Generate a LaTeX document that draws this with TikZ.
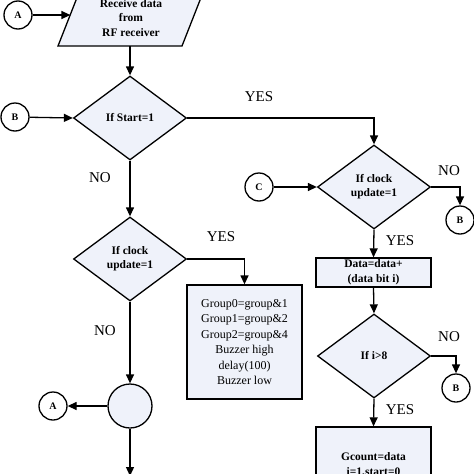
\documentclass[tikz,border=0pt]{standalone}
\usepackage{fontspec}
\setmainfont{Liberation Serif}
\usetikzlibrary{shapes.geometric,arrows.meta}
\definecolor{shapefill}{RGB}{239,242,250}
\begin{document}
\begin{tikzpicture}[x=1pt,y=-1pt,
  line width=1.3pt,
  arr/.style={-{Triangle[length=9pt,width=8pt]}},
  dia/.style={diamond,draw,fill=shapefill,inner sep=0pt,minimum width=113pt,minimum height=84pt,align=center,font=\bfseries\fontsize{11.5}{14}\selectfont},
  proc/.style={rectangle,draw,fill=shapefill,inner sep=0pt,minimum width=115pt,align=center,font=\bfseries\fontsize{11.5}{15}\selectfont},
  conn/.style={circle,draw,fill=white,inner sep=0pt,minimum size=28pt,font=\bfseries\fontsize{10}{12}\selectfont},
  lbl/.style={inner sep=0pt,font=\fontsize{15}{18}\selectfont}
]
\path[use as bounding box,clip] (0,0) rectangle (474,474);
\fill[white] (0,0) rectangle (474,474);

% parallelogram
\draw[fill=shapefill] (58,46) -- (182,46) -- (204,-10) -- (80,-10) -- cycle;
\node[inner sep=0pt,align=center,font=\bfseries\fontsize{11.5}{14.5}\selectfont] (recv) at (131,18) {Receive data\\from\\RF receiver};
\coordinate (recvL) at (70.4,15);
\coordinate (recvB) at (130,46);

\node[conn] (A1) at (18,15) {A};
\node[conn] (B1) at (15,117) {B};
\node[dia] (d1) at (130,118) {If Start=1};
\node[dia] (d4) at (130,259) {If clock\\update=1};
\node[conn] (C1) at (259,187) {C};
\node[dia] (d2) at (374,187) {If clock\\update=1};
\node[conn] (B2) at (460,220) {B};
\node[proc,minimum height=29pt] (box1) at (373.5,272.5) {Data=data+\\(data bit i)};
\node[dia] (d3) at (374,356) {If i>8};
\node[conn] (B3) at (456,388) {B};
\node[proc,minimum height=76pt] (box3) at (373.5,465) {Gcount=data\\i=1,start=0};
\node[proc,minimum height=114pt,font=\fontsize{12}{15.4}\selectfont] (grp) at (244.5,342) {Group0=group\&1\\Group1=group\&2\\Group2=group\&4\\Buzzer high\\delay(100)\\Buzzer low};
\node[circle,draw,fill=shapefill,inner sep=0pt,minimum size=44pt] (J) at (130,406) {};
\node[conn] (A2) at (53,406) {A};
\coordinate (endc) at (130,476);

\draw[arr] (A1) -- (recvL);
\draw[arr] (recvB) -- (d1.north);
\draw[arr] (B1) -- (d1.west);
\draw[arr] (d1.east) -| (d2.north);
\draw[arr] (d1.south) -- (d4.north);
\draw[arr] (C1) -- (d2.west);
\draw[arr] (d2.east) -| (B2.north);
\draw[arr] (d2.south) -- (box1.north);
\draw[arr] (box1.south) -- (d3.north);
\draw[arr] (d3.east) -| (B3.north);
\draw[arr] (d3.south) -- (box3.north);
\draw[arr] (d4.east) -| (grp.north);
\draw[arr] (d4.south) -- (J.north);
\draw[arr] (J.west) -- (A2.east);
\draw[arr] (J.south) -- (endc);

\node[lbl] (y1) at (259,97) {YES};
\node[lbl] (n1) at (100,178) {NO};
\node[lbl] (y4) at (221,237) {YES};
\node[lbl] (n4) at (105,331) {NO};
\node[lbl] (n2) at (449,171) {NO};
\node[lbl] (y2) at (400,241) {YES};
\node[lbl] (n3) at (449,337) {NO};
\node[lbl] (y3) at (400,410) {YES};
\end{tikzpicture}
\end{document}
